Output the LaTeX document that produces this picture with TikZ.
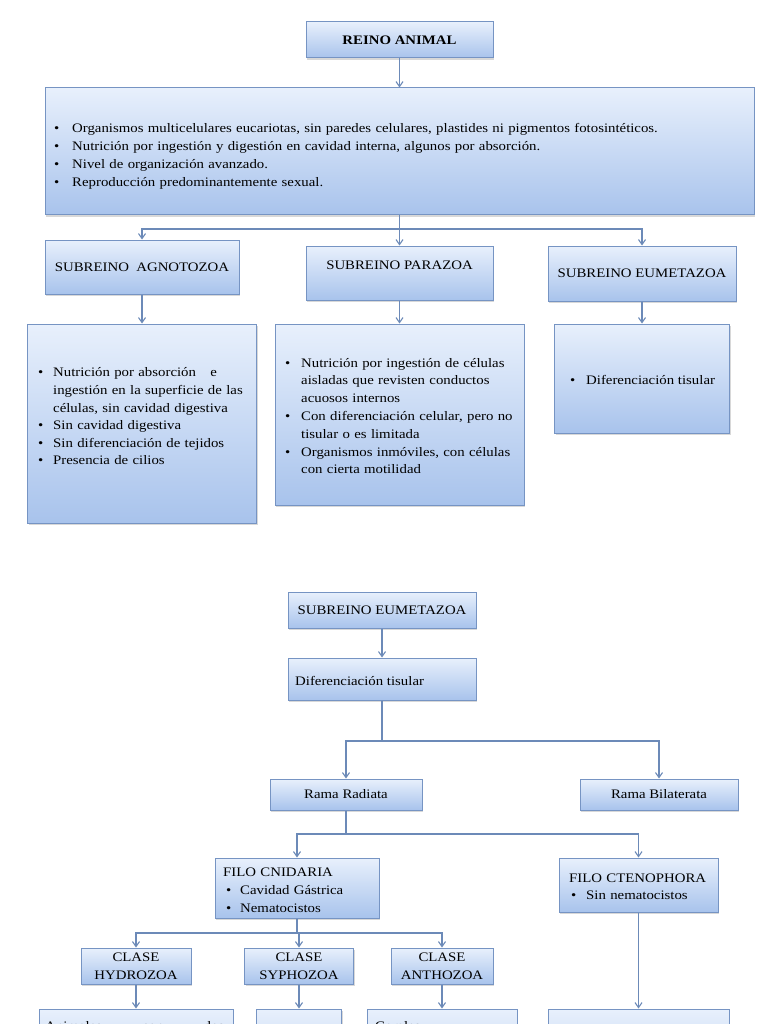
\documentclass[tikz,border=0pt]{standalone}
\usepackage{fontspec}
\setmainfont{Liberation Serif}[FakeStretch=1.14]
\usetikzlibrary{arrows.meta,shadows}
\definecolor{boxtop}{RGB}{232,240,252}
\definecolor{boxbot}{RGB}{168,195,236}
\definecolor{boxline}{RGB}{118,148,195}
\definecolor{connc}{RGB}{108,138,184}
\newcommand\fs{\fontsize{13}{18}\selectfont}
\newcommand\itm[2][16pt]{\makebox[#1][l]{\textbullet}#2}
\tikzset{
  box/.style={draw=boxline, line width=1pt, top color=boxtop, bottom color=boxbot,
    drop shadow={shadow xshift=1.3pt, shadow yshift=-1.6pt, opacity=0.3},
    inner sep=0pt, font=\fs, align=center},
  txt/.style={inner sep=0pt, font=\fs, align=left},
  conn/.style={draw=connc, line width=1.1pt},
  arr/.style={conn, -{Straight Barb[length=5pt,width=7pt]}}
}
\begin{document}
\begin{tikzpicture}[x=1pt,y=-1pt]
\useasboundingbox (0,0) rectangle (768,1024);
\clip (0,0) rectangle (768,1024);
\fill[white] (0,0) rectangle (768,1024);

% ---------- part 1 ----------
\node[box, minimum width=187pt, minimum height=36pt] (reino) at (399.5,40) {\textbf{REINO ANIMAL}};
\node[box, minimum width=709pt, minimum height=127pt] (main) at (399.5,151.5) {};
\node[txt, anchor=north west, text width=700pt, font=\fontsize{13}{18.3}\selectfont] (maint) at (54,119)
 {\strut\itm[18pt]{Organismos multicelulares eucariotas, sin paredes celulares, plastides ni pigmentos fotosintéticos.}\\
  \itm[18pt]{Nutrición por ingestión y digestión en cavidad interna, algunos por absorción.}\\
  \itm[18pt]{Nivel de organización avanzado.}\\
  \itm[18pt]{Reproducción predominantemente sexual.}};

\node[box, minimum width=194pt, minimum height=54pt] (agno) at (142,267) {SUBREINO \ AGNOTOZOA};
\node[box, minimum width=187pt, minimum height=54pt] (para) at (399.5,273) {};
\node[txt] (parat) at (399.5,265) {SUBREINO PARAZOA};
\node[box, minimum width=188pt, minimum height=55pt] (eume) at (642,273.5) {SUBREINO EUMETAZOA};

\node[box, minimum width=229pt, minimum height=199pt] (agnod) at (142,423.5) {};
\node[txt, anchor=north west, text width=220pt, font=\fontsize{13}{17.6}\selectfont] (agnot) at (38,364.4)
 {\strut\itm[15pt]{\makebox[196pt][s]{Nutrición por absorción\hspace{10pt} e}}\\
  \hspace*{15pt}\makebox[196pt][s]{ingestión en la superficie de las}\\
  \hspace*{15pt}células, sin cavidad digestiva\\
  \itm[15pt]{Sin cavidad digestiva}\\
  \itm[15pt]{Sin diferenciación de tejidos}\\
  \itm[15pt]{Presencia de cilios}};

\node[box, minimum width=249pt, minimum height=181pt] (parad) at (399.5,414.5) {};
\node[txt, anchor=north west, text width=240pt, font=\fontsize{13}{17.8}\selectfont] (parat2) at (285,354.4)
 {\strut\itm{\makebox[214pt][s]{Nutrición por ingestión de células}}\\
  \hspace*{16pt}\makebox[214pt][s]{aisladas que revisten conductos}\\
  \hspace*{16pt}acuosos internos\\
  \itm{\makebox[214pt][s]{Con diferenciación celular, pero no}}\\
  \hspace*{16pt}tisular o es limitada\\
  \itm{\makebox[214pt][s]{Organismos inmóviles, con células}}\\
  \hspace*{16pt}con cierta motilidad};

\node[box, minimum width=175pt, minimum height=109pt] (eumed) at (642,378.5) {};
\node[txt, anchor=west] (eumet) at (570,380) {\itm{Diferenciación tisular}};

\draw[arr] (reino.south) -- (main.north);
\coordinate (j1) at (399.5,229);
\draw[conn] (main.south) -- (j1);
\draw[arr] (j1) -| (agno.north);
\draw[arr] (j1) -- (para.north);
\draw[arr] (j1) -| (eume.north);
\draw[arr] (agno.south) -- (agnod.north);
\draw[arr] (para.south) -- (parad.north);
\draw[arr] (eume.south) -- (eumed.north);

% ---------- part 2 ----------
\node[box, minimum width=188pt, minimum height=36pt] (seume) at (382,610) {SUBREINO EUMETAZOA};
\node[box, minimum width=188pt, minimum height=42pt] (dif) at (382,679) {};
\node[txt, anchor=west] (dift) at (295,681) {Diferenciación tisular};
\node[box, minimum width=152pt, minimum height=31pt] (radiata) at (346,794.5) {Rama Radiata};
\node[box, minimum width=158pt, minimum height=31pt] (bilat) at (659,794.5) {Rama Bilaterata};

\node[box, minimum width=164pt, minimum height=60pt] (cnid) at (297,888) {};
\node[txt, anchor=north west, text width=150pt] (cnidt) at (223,863.4)
 {\strut FILO CNIDARIA\\
  \hspace*{3pt}\itm[14pt]{Cavidad Gástrica}\\
  \hspace*{3pt}\itm[14pt]{Nematocistos}};
\node[box, minimum width=159pt, minimum height=54pt] (cten) at (638.5,885) {};
\node[txt, anchor=north west, text width=150pt, font=\fontsize{13}{17}\selectfont] (ctent) at (569,870.4)
 {\strut FILO CTENOPHORA\\
  \hspace*{2pt}\itm[15pt]{Sin nematocistos}};

\node[box, minimum width=110pt, minimum height=36pt] (hydro) at (136,966) {CLASE\\HYDROZOA};
\node[box, minimum width=109pt, minimum height=36pt] (sypho) at (299,966) {CLASE\\SYPHOZOA};
\node[box, minimum width=102pt, minimum height=36pt] (antho) at (442,966) {CLASE\\ANTHOZOA};

\node[box, minimum width=194pt, minimum height=100pt] (b1) at (136,1059) {};
\node[box, minimum width=85pt, minimum height=100pt] (b2) at (299,1059) {};
\node[box, minimum width=150pt, minimum height=100pt] (b3) at (442,1059) {};
\node[box, minimum width=181pt, minimum height=100pt] (b4) at (638.5,1059) {};
\node[txt, anchor=base west] (b1t) at (45,1030) {\makebox[179pt][s]{Animales con dos}};
\node[txt, anchor=base west] (b3t) at (375,1030) {Corales};

\draw[arr] (seume.south) -- (dif.north);
\coordinate (j2) at (382,741);
\draw[conn] (dif.south) -- (j2);
\draw[arr] (j2) -| (radiata.north);
\draw[arr] (j2) -| (bilat.north);
\coordinate (j3) at (346,834);
\draw[conn] (radiata.south) -- (j3);
\draw[arr] (j3) -| (cnid.north);
\draw[arr] (j3) -| (cten.north);
\coordinate (j4) at (297,933);
\draw[conn] (cnid.south) -- (j4);
\draw[arr] (j4) -| (hydro.north);
\draw[arr] (j4) -| (sypho.north);
\draw[arr] (j4) -| (antho.north);
\draw[arr] (hydro.south) -- (b1.north);
\draw[arr] (sypho.south) -- (b2.north);
\draw[arr] (antho.south) -- (b3.north);
\draw[arr] (cten.south) -- (b4.north);
\end{tikzpicture}
\end{document}
